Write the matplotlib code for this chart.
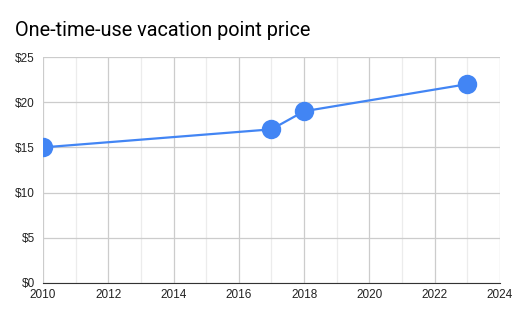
import matplotlib.pyplot as plt
from matplotlib.ticker import MultipleLocator, FuncFormatter

years = [2010, 2017, 2018, 2023]
prices = [15, 17, 19, 22]

plt.rcParams['font.family'] = ['Roboto', 'DejaVu Sans']

fig = plt.figure(figsize=(5.16, 3.19), dpi=100)
ax = fig.add_axes([0.0833, 0.1129, 0.8857, 0.7084])

ax.plot(years, prices, color='#4285f4', linewidth=1.6, zorder=3)
ax.scatter(years, prices, s=196, color='#4285f4', linewidths=0, zorder=4)

ax.set_xlim(2010, 2024)
ax.set_ylim(0, 25)
ax.xaxis.set_major_locator(MultipleLocator(2))
ax.xaxis.set_minor_locator(MultipleLocator(1))
ax.yaxis.set_major_locator(MultipleLocator(5))
ax.yaxis.set_major_formatter(FuncFormatter(lambda v, p: f"${v:.0f}"))

ax.grid(which='major', color='#cccccc', linewidth=0.9)
ax.grid(which='minor', axis='x', color='#ececec', linewidth=0.9)
ax.set_axisbelow(True)

for s in ['top', 'right', 'left']:
    ax.spines[s].set_visible(False)
ax.spines['bottom'].set_color('#333333')
ax.tick_params(which='both', length=0, labelsize=8.5, colors='#222222')
ax.tick_params(axis='x', pad=4)
ax.tick_params(axis='y', pad=6)
for lbl in ax.get_xticklabels() + ax.get_yticklabels():
    lbl.set_family('Liberation Sans')

fig.text(0.029, 0.905, "One-time-use vacation point price", fontsize=14.3,
         color='#000000', va='center', ha='left')

fig.savefig('out.png', dpi=100)
